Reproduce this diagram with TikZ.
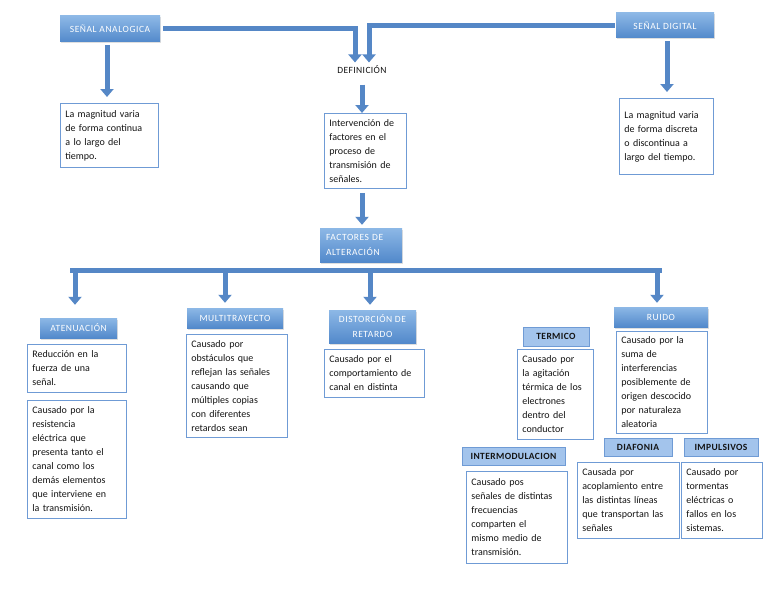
\documentclass[tikz,border=0pt]{standalone}
\usepackage{fontspec}
\setmainfont{Carlito}
\newfontfamily\etiqfont[LetterSpace=6]{Carlito}
\newfontfamily\subfont[LetterSpace=4]{Carlito}
\usetikzlibrary{arrows.meta,positioning,calc,shadows}
\definecolor{cmazul}{HTML}{5587C6}
\definecolor{cmclaro}{HTML}{8DB8E6}
\definecolor{cmoscuro}{HTML}{5289CB}
\definecolor{cmsub}{HTML}{A3C4EC}
\definecolor{cmborde}{HTML}{6F9BD5}
\definecolor{cmtexto}{HTML}{141414}

\tikzset{
  etiqueta/.style={top color=cmclaro,bottom color=cmoscuro,text=white,inner sep=0pt,
    font=\etiqfont\fontsize{9.5}{15}\selectfont,align=center,
    drop shadow={shadow xshift=1pt,shadow yshift=-1.5pt,opacity=.25}},
  subetiq/.style={fill=cmsub,draw=cmborde,line width=.6pt,text=cmtexto,inner sep=0pt,
    font=\subfont\fontsize{9.5}{10}\selectfont\bfseries},
  caja/.style={draw=cmborde,line width=.8pt,fill=white,anchor=north west,align=left,
    inner xsep=5pt,inner ysep=2pt,text=cmtexto,font=\fontsize{10}{14}\selectfont},
  conector/.style={draw=cmazul,line width=5pt,-{Triangle[width=13pt,length=8pt]}},
  barra/.style={draw=cmazul,line width=5pt}
}

\begin{document}
\begin{tikzpicture}[x=1pt,y=-1pt,>=Latex]
  \useasboundingbox[fill=white] (0,0) rectangle (768,594);

  % senales
  \node[etiqueta,minimum width=100pt,minimum height=26pt] (analog) at (110,29) {SEÑAL ANALOGICA};
  \node[etiqueta,minimum width=98pt,minimum height=25pt] (digital) at (665,25.5) {SEÑAL DIGITAL};
  \node[text=cmtexto,font=\subfont\fontsize{9.5}{10}\selectfont] (def) at (362,70) {DEFINICIÓN};

  \node[caja,text width=88pt,minimum height=64pt] (tanalog) at (60,103)
    {La magnitud varia\\de forma continua\\a lo largo del\\tiempo.};
  \node[caja,text width=84pt,minimum height=76pt] (tdigital) at (619,98)
    {La magnitud varia\\de forma discreta\\o discontinua a\\largo del tiempo.\\[10pt]};
  \node[caja,text width=72pt,minimum height=75pt] (tdef) at (324,113)
    {Intervención de\\factores en el\\proceso de\\transmisión de\\señales.};

  \node[etiqueta,minimum width=82pt,minimum height=34pt,text width=70pt,align=left] (factores) at (361,245)
    {FACTORES DE\\ALTERACIÓN};

  \draw[conector,shorten <=3pt] (analog.east) -| ([xshift=-7pt]def.north);
  \draw[conector,shorten <=1pt] (digital.west) -| ([xshift=7pt]def.north);
  \draw[conector,shorten <=3pt,shorten >=6pt] (analog.south -| 107,0) -- (tanalog.north -| 107,0);
  \draw[conector,shorten <=3pt,shorten >=6pt] (digital.south -| 667,0) -- (tdigital.north -| 667,0);
  \draw[conector,shorten <=7pt] (def.south) -- (def.south |- tdef.north);
  \draw[conector,shorten <=4pt,shorten >=3pt] (def.south |- tdef.south) -- (def.south |- factores.north);

  % factores de alteracion
  \node[etiqueta,minimum width=77pt,minimum height=20pt] (aten) at (78.5,328) {ATENUACIÓN};
  \node[etiqueta,minimum width=96pt,minimum height=20pt] (multi) at (235,318) {MULTITRAYECTO};
  \node[etiqueta,minimum width=87pt,minimum height=33pt] (dist) at (372.5,326.5) {DISTORCIÓN DE\\RETARDO};
  \node[etiqueta,minimum width=94pt,minimum height=20pt] (ruido) at (661,317) {RUIDO};

  \coordinate (barizq) at (70,270);
  \coordinate (barder) at (662,270);
  \draw[barra] (barizq) -- (barder);
  \foreach \x/\n/\s in {75/aten/13,225/multi/5,370/dist/5,657/ruido/4}{
    \coordinate (b\n) at (\x,270);
    \draw[conector,shorten <=2pt,shorten >=\s pt] (b\n) -- (b\n |- \n.north);
  }

  \node[caja,text width=89pt,minimum height=48pt] (taten) at (27,344)
    {Reducción en la\\fuerza de una\\señal.};
  \node[caja,text width=89pt,minimum height=118pt] (tresist) at (27,400)
    {Causado por la\\resistencia\\eléctrica que\\presenta tanto el\\canal como los\\demás elementos\\que interviene en\\la transmisión.};
  \node[caja,text width=91pt,minimum height=103pt] (tmulti) at (186,334)
    {Causado por\\obstáculos que\\reflejan las señales\\causando que\\múltiples copias\\con diferentes\\retardos sean};
  \node[caja,text width=90pt,minimum height=48pt] (tdist) at (324,349)
    {Causado por el\\comportamiento de\\canal en distinta};
  \node[caja,text width=81pt,minimum height=102pt] (truido) at (616,331)
    {Causado por la\\suma de\\interferencias\\posiblemente de\\origen descocido\\por naturaleza\\aleatoria};

  % tipos de ruido
  \node[subetiq,minimum width=66pt,minimum height=19pt] (termico) at (556,336.5) {TERMICO};
  \node[subetiq,minimum width=68pt,minimum height=18pt] (diaf) at (638,447) {DIAFONIA};
  \node[subetiq,minimum width=74pt,minimum height=18pt] (impul) at (721,447) {IMPULSIVOS};
  \node[subetiq,minimum width=103pt,minimum height=18pt] (inter) at (513.5,456) {INTERMODULACION};

  \node[caja,text width=66pt,minimum height=90pt] (ttermico) at (517,349)
    {Causado por\\la agitación\\térmica de los\\electrones\\dentro del\\conductor};
  \node[caja,text width=91pt,minimum height=92pt] (tinter) at (466,471)
    {Causado pos\\señales de distintas\\frecuencias\\comparten el\\mismo medio de\\transmisión.};
  \node[caja,text width=92pt,minimum height=76pt] (tdiaf) at (577,462)
    {Causada por\\acoplamiento entre\\las distintas líneas\\que transportan las\\señales};
  \node[caja,text width=71pt,minimum height=76pt] (timpul) at (681,462)
    {Causado por\\tormentas\\eléctricas o\\fallos en los\\sistemas.};
\end{tikzpicture}
\end{document}
